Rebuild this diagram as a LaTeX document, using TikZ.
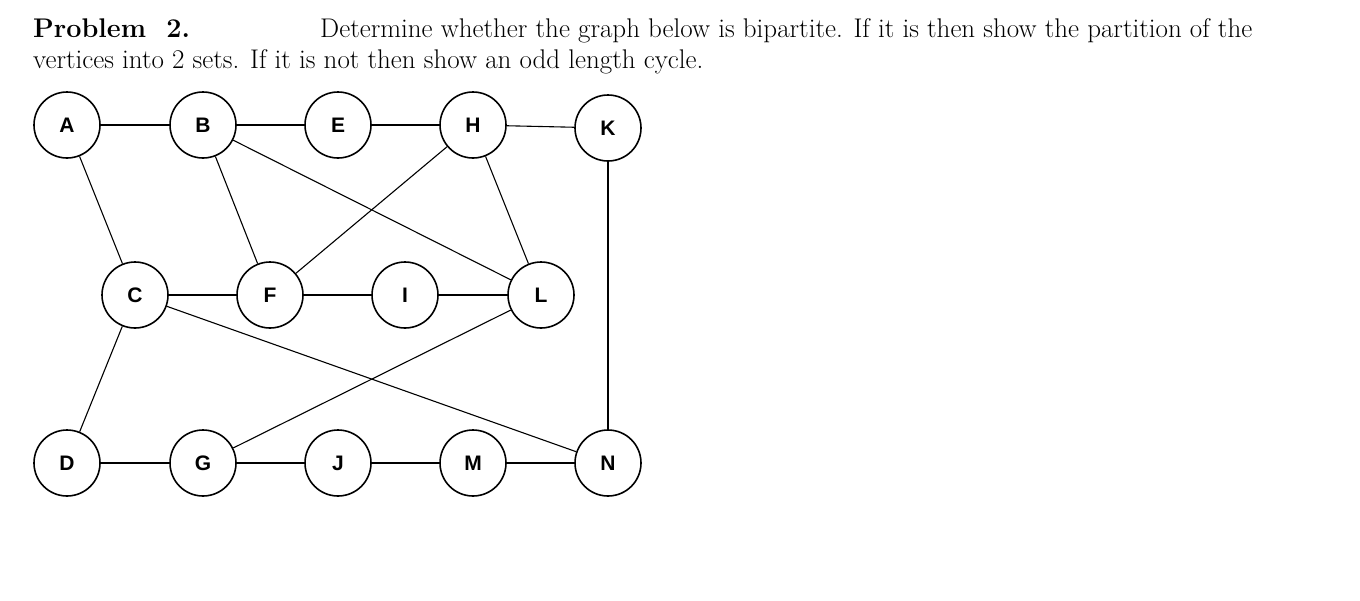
\documentclass[tikz,border=0pt]{standalone}
\usepackage{fontspec}
\newfontfamily\lab{Liberation Sans}
\begin{document}
\begin{tikzpicture}[x=1pt,y=-1pt,
  v/.style={circle,draw,line width=1.6pt,minimum size=66pt,inner sep=0pt,font=\lab\bfseries\fontsize{21}{24}\selectfont},
  e/.style={line width=1.1pt},
  txt/.style={anchor=base west,inner sep=0pt,font=\fontsize{27}{30}\selectfont}]
\useasboundingbox (0,0) rectangle (1360,600);
\node[txt] (t1) at (33,37) {\textbf{Problem\ \ 2.}};
\node[txt] (t2) at (320,37) {Determine whether the graph below is bipartite. If it is then show the partition of the};
\node[txt] (t3) at (33,68) {vertices into 2 sets. If it is not then show an odd length cycle.};
\node[v] (A) at (67,125) {A};
\node[v] (B) at (203,125) {B};
\node[v] (E) at (338,125) {E};
\node[v] (H) at (473,125) {H};
\node[v] (K) at (608,128) {K};
\node[v] (C) at (135,295) {C};
\node[v] (F) at (270,295) {F};
\node[v] (I) at (405,295) {I};
\node[v] (L) at (541,295) {L};
\node[v] (D) at (67,463) {D};
\node[v] (G) at (203,463) {G};
\node[v] (J) at (338,463) {J};
\node[v] (M) at (473,463) {M};
\node[v] (N) at (608,463) {N};
\foreach \a/\b in {A/B,B/E,E/H,H/K,A/C,B/F,B/L,H/F,H/L,K/N,C/F,F/I,I/L,C/D,C/N,L/G,D/G,G/J,J/M,M/N}
  \draw[e] (\a) -- (\b);
\end{tikzpicture}
\end{document}
